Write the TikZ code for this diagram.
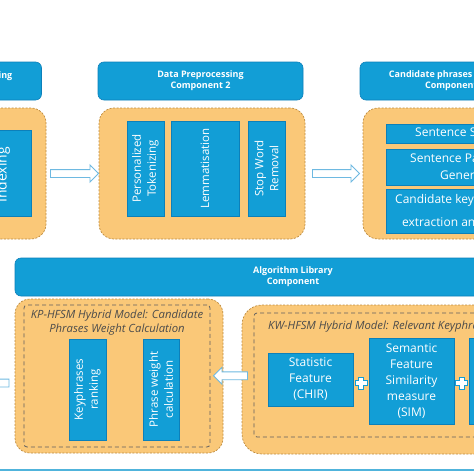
\documentclass[tikz,border=0pt]{standalone}
\usepackage{fontspec}
\setmainfont{Open Sans}
\usetikzlibrary{shapes.arrows,calc}
\definecolor{bluec}{RGB}{18,158,214}
\definecolor{blueb}{RGB}{12,128,186}
\definecolor{orangec}{RGB}{250,200,120}
\definecolor{orangeb}{RGB}{190,140,65}
\definecolor{grayb}{RGB}{95,95,95}
\definecolor{arrowc}{RGB}{110,185,225}
\definecolor{linec}{RGB}{80,180,220}
\definecolor{titlec}{RGB}{75,75,75}
\tikzset{
  header/.style={draw=blueb, fill=bluec, line width=0.6, rounded corners=6, text=white, align=center, inner sep=0,
    font=\bfseries\fontsize{9}{11}\selectfont},
  orangebox/.style={draw=orangeb, fill=orangec, dash pattern=on 2pt off 1.5pt, line width=0.7, rounded corners=15, inner sep=0},
  grayframe/.style={draw=grayb, dash pattern=on 4pt off 3pt, line width=0.8, rounded corners=3, inner sep=0},
  bluebox/.style={draw=blueb, fill=bluec, line width=0.6, text=white, align=center, inner sep=0,
    font=\fontsize{11.5}{15}\selectfont},
  bigtext/.style={font=\fontsize{12}{16}\selectfont},
  sentext/.style={text=white, inner sep=0, anchor=west, font=\fontsize{12}{14}\selectfont},
  titletext/.style={text=titlec, align=center, inner sep=0, font=\itshape\fontsize{11.3}{13.5}\selectfont},
  hollow/.style={single arrow, draw=arrowc, fill=white, line width=0.9, inner sep=3.5pt,
    single arrow head extend=4.5pt},
  plussign/.pic={\draw[fill=white, draw=bluec, line width=0.8]
    (-6,-2.5) -- (-2.5,-2.5) -- (-2.5,-6) -- (2.5,-6) -- (2.5,-2.5) -- (6,-2.5) -- (6,2.5)
    -- (2.5,2.5) -- (2.5,6) -- (-2.5,6) -- (-2.5,2.5) -- (-6,2.5) -- cycle;}
}
\begin{document}
\begin{tikzpicture}[x=1pt,y=-1pt]
\useasboundingbox (0,0) rectangle (474,474);
\clip (0,0) rectangle (474,474);
\fill[white] (0,0) rectangle (474,474);

% ---------- top row ----------
\node[header, minimum width=101.5, minimum height=38] (h1) at (-9.25,81) {};
\node[text=white, inner sep=0, anchor=east, font=\bfseries\fontsize{9}{11}\selectfont] (h1t) at (12.5,76.5) {Indexing};
\node[orangebox, minimum width=106, minimum height=131] (o1) at (-7,173.5) {};
\node[bluebox, minimum width=91, minimum height=86] (i1) at (-14.5,173) {};
\node[text=white, rotate=90, inner sep=0, font=\fontsize{14}{16}\selectfont] (i1t) at (3,175) {Indexing};

\node[header, minimum width=205, minimum height=38] (h2) at (200.5,81) {Data Preprocessing\\Component 2};
\node[orangebox, minimum width=206, minimum height=131] (o2) at (202,173.5) {};
\node[bluebox, rotate=90, minimum width=95, minimum height=37] (tok) at (145.5,168.5) {Personalized\\Tokenizing};
\node[bluebox, rotate=90, minimum width=95, minimum height=68] (lem) at (205,168.5) {Lemmatisation};
\node[bluebox, rotate=90, minimum width=95, minimum height=37] (stop) at (266.5,168.5) {Stop Word\\Removal};

\node[header, minimum width=190, minimum height=38] (h3) at (455,81) {Candidate phrases extraction\\Component 3};
\node[orangebox, minimum width=207, minimum height=131] (o3) at (466.5,173.5) {};
\node[bluebox, minimum width=160, minimum height=19] (s1) at (466,133.5) {};
\node[bluebox, minimum width=160, minimum height=36] (s2) at (466,167) {};
\node[bluebox, minimum width=160, minimum height=44] (s3) at (466,211) {};
\node[sentext] (s1a) at (415,133.5) {Sentence Splitting};
\node[sentext] (s2a) at (410,158.5) {Sentence Parse Tree};
\node[sentext] (s2b) at (440,175.5) {Generation};
\node[sentext] (s3a) at (395,200) {Candidate keyphrases};
\node[sentext] (s3b) at (402,223) {extraction and ranking};

\node[hollow, minimum height=48] (a1) at ($(o1.east)!0.5!(o2.west)$) {};
\node[hollow, minimum height=47] (a2) at ($(o2.east)!0.5!(o3.west)$) {};

% ---------- bottom row ----------
\node[header, minimum width=556, minimum height=38] (al) at (293,277) {Algorithm Library\\Component};

\node[orangebox, minimum width=208, minimum height=154] (kp) at (119,376) {};
\node[grayframe, minimum width=186, minimum height=142] (kpin) at (117,376) {};
\node[titletext] (kpt) at (117,322.5) {KP-HFSM Hybrid Model: Candidate\\Phrases Weight Calculation};
\node[bluebox, rotate=90, minimum width=101, minimum height=37] (kr) at (87.5,389.5) {Keyphrases\\ranking};
\node[bluebox, rotate=90, minimum width=101, minimum height=36] (pw) at (161,389.5) {Phrase weight\\calculation};

\node[orangebox, rounded corners=20, minimum width=378, minimum height=149] (kw) at (431,379.5) {};
\node[grayframe, minimum width=356, minimum height=124] (kwin) at (432,375) {};
\node[titletext, anchor=west] (kwt) at (268,326.5) {KW-HFSM Hybrid Model: Relevant Keyphrases Weight Calculation};
\node[bluebox, bigtext, minimum width=85, minimum height=53] (stat) at (310.5,379.5) {Statistic\\Feature\\(CHIR)};
\node[bluebox, bigtext, minimum width=85, minimum height=86] (sem) at (411.5,381) {Semantic\\Feature\\Similarity\\measure\\(SIM)};
\node[bluebox, minimum width=85, minimum height=86] (nxt) at (511.5,381) {};
\pic (p1) at ($($(stat.east)!0.5!(sem.west)$)+(0,3)$) {plussign};
\pic (p2) at ($($(sem.east)!0.5!(nxt.west)$)+(0,2)$) {plussign};

\node[hollow, minimum height=34, shape border rotate=180] (a3) at ($(kw.west)!0.5!(kp.east)+(0,-2)$) {};
\node[hollow, minimum height=48, shape border rotate=180] (a4) at (-13,383) {};

\coordinate (bl) at (0,470);
\coordinate (br) at (474,470);
\draw[linec, line width=1.5] (bl) -- (br);
\end{tikzpicture}
\end{document}
